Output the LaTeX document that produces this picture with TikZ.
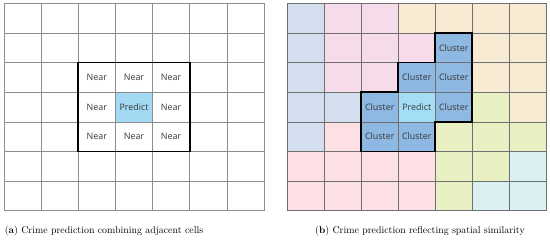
\documentclass[tikz,border=0pt]{standalone}
\usepackage{fontspec}
\newfontfamily\cellfont{Open Sans}
\definecolor{gridgray}{HTML}{8C8C8C}
\definecolor{gridgrayb}{HTML}{707070}
\definecolor{textgray}{HTML}{383838}
\definecolor{predleft}{HTML}{A3D9F3}
\definecolor{cellB}{HTML}{D3DEEF}
\definecolor{cellP}{HTML}{F6DCEB}
\definecolor{cellE}{HTML}{F7EBD4}
\definecolor{cellS}{HTML}{FCE0E3}
\definecolor{cellG}{HTML}{E8EFC3}
\definecolor{cellC}{HTML}{DAF0F3}
\definecolor{cellK}{HTML}{8EB9E3}
\definecolor{cellX}{HTML}{A3DDF6}
\begin{document}
\begin{tikzpicture}[x=1pt,y=1pt,
  gridline/.style={draw=gridgray, line width=0.6pt},
  gridlineb/.style={draw=gridgrayb, line width=0.6pt},
  boldline/.style={draw=black, line width=1.8pt, line join=miter},
  celltext/.style={font=\cellfont\fontsize{8.9}{11}\selectfont, text=textgray, inner sep=0pt},
  captext/.style={font=\fontsize{9.9}{12}\selectfont, inner sep=0pt}]
\useasboundingbox (0,0) rectangle (550,-249);
% ---------- left grid ----------
\begin{scope}[shift={(4,-3.3)}, x=37.14pt, y=-29.63pt]
  \fill[predleft] (3,3) rectangle (4,4);
  \foreach \i in {0,...,7} {
    \draw[gridline] (\i,0) -- (\i,7);
    \draw[gridline] (0,\i) -- (7,\i);
  }
  \draw[boldline] (2,2) rectangle (5,5);
  \node[celltext] (la1) at (2.5,2.5) {Near};
  \node[celltext] (la2) at (3.5,2.5) {Near};
  \node[celltext] (la3) at (4.5,2.5) {Near};
  \node[celltext] (la4) at (2.5,3.5) {Near};
  \node[celltext] (lp)  at (3.5,3.5) {Predict};
  \node[celltext] (la5) at (4.5,3.5) {Near};
  \node[celltext] (la6) at (2.5,4.5) {Near};
  \node[celltext] (la7) at (3.5,4.5) {Near};
  \node[celltext] (la8) at (4.5,4.5) {Near};
\end{scope}
% ---------- right grid ----------
\begin{scope}[shift={(287.3,-3.3)}, x=37.0pt, y=-29.63pt]
  \foreach \r/\row in {0/{B,P,P,E,E,E,E},1/{B,P,P,P,K,E,E},2/{B,P,P,K,K,E,E},
                       3/{B,B,K,X,K,G,E},4/{B,S,K,K,G,G,G},5/{S,S,S,S,G,G,C},
                       6/{S,S,S,S,G,C,C}} {
    \foreach \col [count=\c from 0] in \row {
      \fill[cell\col] (\c,\r) rectangle ++(1,1);
    }
  }
  \foreach \i in {0,...,7} {
    \draw[gridlineb] (\i,0) -- (\i,7);
    \draw[gridlineb] (0,\i) -- (7,\i);
  }
  \draw[boldline] (4,1) -- (5,1) -- (5,4) -- (4,4) -- (4,5) -- (2,5) -- (2,3)
                  -- (3,3) -- (3,2) -- (4,2) -- cycle;
  \node[celltext] (rc1) at (4.5,1.5) {Cluster};
  \node[celltext] (rc2) at (3.5,2.5) {Cluster};
  \node[celltext] (rc3) at (4.5,2.5) {Cluster};
  \node[celltext] (rc4) at (2.5,3.5) {Cluster};
  \node[celltext] (rp)  at (3.5,3.5) {Predict};
  \node[celltext] (rc5) at (4.5,3.5) {Cluster};
  \node[celltext] (rc6) at (2.5,4.5) {Cluster};
  \node[celltext] (rc7) at (3.5,4.5) {Cluster};
\end{scope}
% ---------- captions ----------
\node[captext] (capa) at (104,-231) {(\textbf{a}) Crime prediction combining adjacent cells};
\node[captext] (capb) at (420,-231) {(\textbf{b}) Crime prediction reflecting spatial similarity};
\end{tikzpicture}
\end{document}
